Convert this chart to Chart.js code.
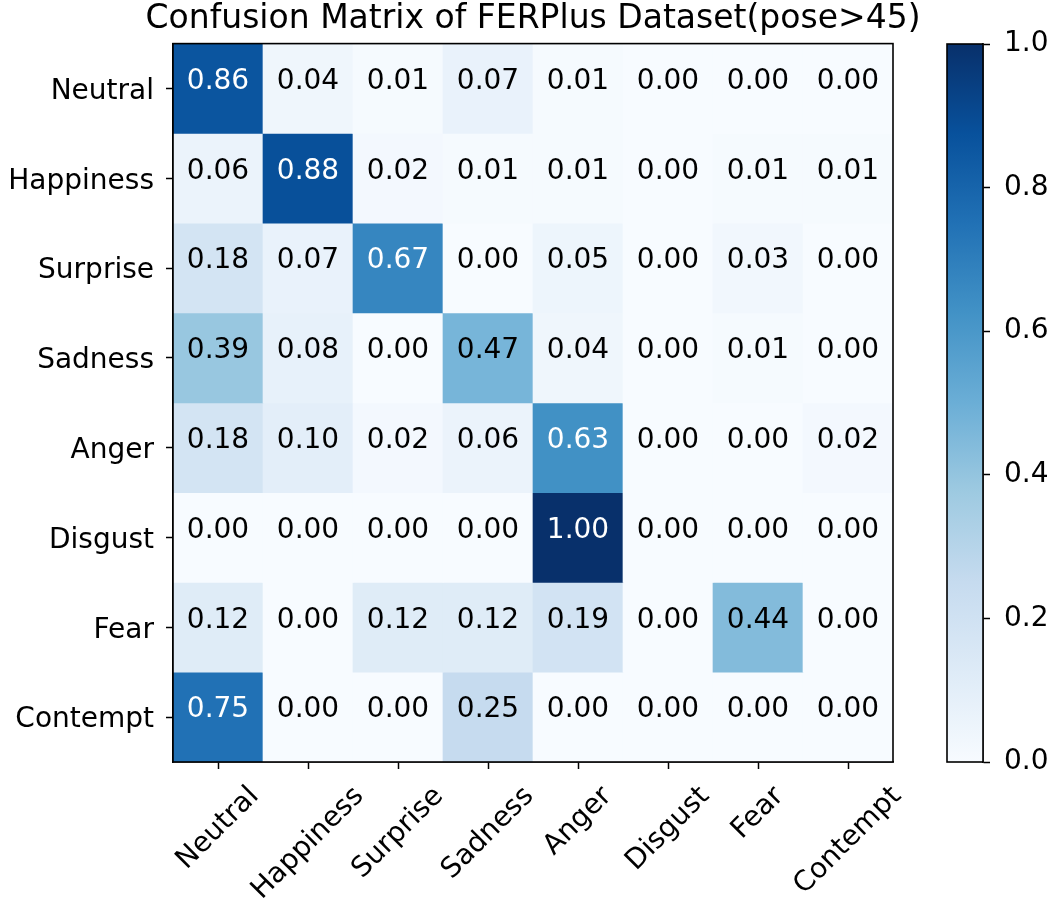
<!DOCTYPE html>
<html>
<head>
<meta charset="utf-8">
<script src="https://cdn.jsdelivr.net/npm/chart.js@4"></script>
<style>
    body { margin: 0; background: #fff; }
    #wrap { position: relative; width: 1058px; height: 905px; }
    #matrix { position: absolute; left: 0; top: 0; }
    #cbar { position: absolute; left: 900px; top: 0; }
</style>
</head>
<body>
<div id="wrap">
    <canvas id="matrix" width="1058" height="905"></canvas>
    <canvas id="cbar" width="158" height="905"></canvas>
</div>
<script>
// labels for rows (true) and columns (predicted)
const rowLabels = ['Neutral', 'Happiness', 'Surprise', 'Sadness', 'Anger', 'Disgust', 'Fear', 'Contempt'];
const colLabels = ['Neutral', 'Happiness', 'Surprise', 'Sadness', 'Anger', 'Disgust', 'Fear', 'Contempt'];

// one row of the matrix per true class
const neutralRow   = [0.86, 0.04, 0.01, 0.07, 0.01, 0.00, 0.00, 0.00];
const happinessRow = [0.06, 0.88, 0.02, 0.01, 0.01, 0.00, 0.01, 0.01];
const surpriseRow  = [0.18, 0.07, 0.67, 0.00, 0.05, 0.00, 0.03, 0.00];
const sadnessRow   = [0.39, 0.08, 0.00, 0.47, 0.04, 0.00, 0.01, 0.00];
const angerRow     = [0.18, 0.10, 0.02, 0.06, 0.63, 0.00, 0.00, 0.02];
const disgustRow   = [0.00, 0.00, 0.00, 0.00, 1.00, 0.00, 0.00, 0.00];
const fearRow      = [0.12, 0.00, 0.12, 0.12, 0.19, 0.00, 0.44, 0.00];
const contemptRow  = [0.75, 0.00, 0.00, 0.25, 0.00, 0.00, 0.00, 0.00];

const matrix = [neutralRow, happinessRow, surpriseRow, sadnessRow, angerRow, disgustRow, fearRow, contemptRow];

const cbarTicks = [0, 0.2, 0.4, 0.6, 0.8, 1.0];

const FONT = 'DejaVu Sans';
const FS = 28;

// matplotlib "Blues"
const blues = [
    [247, 251, 255], [222, 235, 247], [198, 219, 239], [158, 202, 225], [107, 174, 214],
    [66, 146, 198], [33, 113, 181], [8, 81, 156], [8, 48, 107]
];

function blueColor(v) {
    const t = Math.max(0, Math.min(1, v)) * (blues.length - 1);
    const i = Math.min(Math.floor(t), blues.length - 2);
    const f = t - i;
    const a = blues[i], b = blues[i + 1];
    const c = a.map((x, k) => Math.round(x + (b[k] - x) * f));
    return `rgb(${c[0]}, ${c[1]}, ${c[2]})`;
}

const datasets = matrix.map((row, r) => ({
    label: rowLabels[r],
    data: row.map(() => [r, r + 1]),
    backgroundColor: row.map(v => blueColor(v)),
    borderWidth: 0,
    grouped: false,
    barPercentage: 1,
    categoryPercentage: 1
}));

// values written in each cell + the box round the plot
const cellText = {
    id: 'cellText',
    afterDatasetsDraw(chart) {
        const { ctx, chartArea, scales } = chart;
        ctx.save();
        ctx.font = `${FS}px "${FONT}"`;
        ctx.textAlign = 'center';
        ctx.textBaseline = 'middle';
        matrix.forEach((row, r) => {
            row.forEach((v, c) => {
                ctx.fillStyle = v > 0.5 ? '#fff' : '#000';
                ctx.fillText(v.toFixed(2), scales.x.getPixelForValue(c), scales.y.getPixelForValue(r + 0.5) - 7);
            });
        });
        ctx.strokeStyle = '#000';
        ctx.lineWidth = 1.6;
        ctx.strokeRect(chartArea.left, chartArea.top, chartArea.right - chartArea.left, chartArea.bottom - chartArea.top);

        // rotated column labels, centred under the ticks like matplotlib
        ctx.fillStyle = '#000';
        const top = chartArea.bottom + 19;
        const h = FS * 1.1;
        colLabels.forEach((lab, c) => {
            const w = ctx.measureText(lab).width;
            const box = (w + h) / Math.SQRT2;
            const x = scales.x.getPixelForValue(c);
            const y = top + box / 2;
            ctx.save();
            ctx.translate(x, y);
            ctx.rotate(-Math.PI / 4);
            ctx.fillText(lab, 0, 0);
            ctx.restore();
        });
        ctx.restore();
    }
};

new Chart(document.getElementById('matrix'), {
    type: 'bar',
    data: { labels: colLabels, datasets: datasets },
    options: {
        responsive: false,
        animation: false,
        layout: { padding: { left: 8 } },
        plugins: {
            legend: { display: false },
            tooltip: { enabled: false },
            title: {
                display: true,
                text: 'Confusion Matrix of FERPlus Dataset(pose>45)',
                color: '#000',
                font: { family: FONT, size: 33, weight: 'normal', lineHeight: 1.2 },
                padding: { top: 0, bottom: 4 }
            }
        },
        scales: {
            x: {
                type: 'category',
                offset: true,
                grid: { offset: false, drawOnChartArea: false, tickLength: 7, color: '#000', tickWidth: 1.5 },
                border: { color: '#000', width: 1.6 },
                ticks: { display: false },
                afterFit(scale) { scale.height = 143; }
            },
            y: {
                type: 'linear',
                min: 0,
                max: 8,
                reverse: true,
                afterBuildTicks(scale) {
                    scale.ticks = rowLabels.map((_, i) => ({ value: i + 0.5 }));
                },
                ticks: {
                    autoSkip: false,
                    color: '#000',
                    padding: 12,
                    labelOffset: 3,
                    font: { family: FONT, size: FS },
                    callback: (v) => rowLabels[Math.floor(v)]
                },
                grid: { drawOnChartArea: false, tickLength: 7, color: '#000', tickWidth: 1.5 },
                border: { color: '#000', width: 1.6 },
                afterFit(scale) { scale.width = 165; }
            },
            // empty right-hand axis that keeps room for the colour bar
            yRoom: {
                type: 'linear',
                position: 'right',
                grid: { display: false },
                ticks: { display: false },
                border: { display: false },
                afterFit(scale) { scale.width = 165; }
            }
        }
    },
    plugins: [cellText]
});

// colour bar
const cbarFrame = {
    id: 'cbarFrame',
    afterDatasetsDraw(chart) {
        const { ctx, chartArea } = chart;
        ctx.save();
        ctx.strokeStyle = '#000';
        ctx.lineWidth = 1.6;
        ctx.strokeRect(chartArea.left, chartArea.top, chartArea.right - chartArea.left, chartArea.bottom - chartArea.top);
        ctx.restore();
    }
};

new Chart(document.getElementById('cbar'), {
    type: 'bar',
    data: {
        labels: [''],
        datasets: [{
            data: [[0, 1]],
            borderWidth: 0,
            barPercentage: 1,
            categoryPercentage: 1,
            backgroundColor(context) {
                const area = context.chart.chartArea;
                if (!area) return null;
                const g = context.chart.ctx.createLinearGradient(0, area.bottom, 0, area.top);
                blues.forEach((c, i) => g.addColorStop(i / (blues.length - 1), `rgb(${c[0]}, ${c[1]}, ${c[2]})`));
                return g;
            }
        }]
    },
    options: {
        responsive: false,
        animation: false,
        layout: { padding: { left: 47, top: 44, bottom: 143 } },
        plugins: { legend: { display: false }, tooltip: { enabled: false } },
        scales: {
            x: { display: false },
            y: {
                position: 'right',
                min: 0,
                max: 1,
                afterBuildTicks(scale) {
                    scale.ticks = cbarTicks.map(v => ({ value: v }));
                },
                ticks: {
                    color: '#000',
                    padding: 14,
                    font: { family: FONT, size: FS },
                    callback: (v) => v.toFixed(1)
                },
                grid: { drawOnChartArea: false, tickLength: 7, color: '#000', tickWidth: 1.5 },
                border: { color: '#000', width: 1.6 },
                afterFit(scale) { scale.width = 75; }
            }
        }
    },
    plugins: [cbarFrame]
});
</script>
</body>
</html>
